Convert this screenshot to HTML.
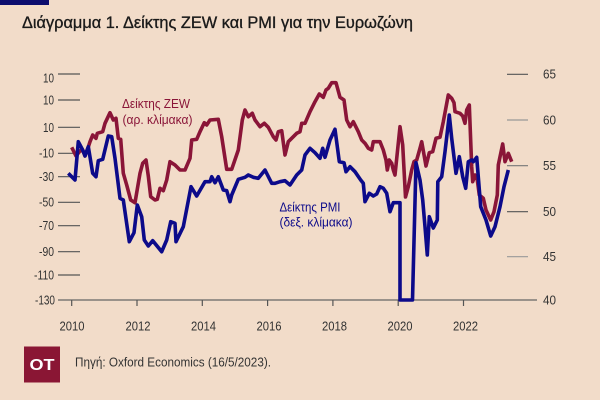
<!DOCTYPE html>
<html>
<head>
<meta charset="utf-8">
<style>
html,body{margin:0;padding:0;background:#f2dcc9;}
svg{display:block;}
text{font-family:"Liberation Sans","DejaVu Sans",sans-serif;}
</style>
</head>
<body>
<svg width="600" height="400" viewBox="0 0 600 400" xmlns="http://www.w3.org/2000/svg">
<rect x="0" y="0" width="600" height="400" fill="#f2dcc9"/>
<rect x="0" y="0" width="49" height="5" fill="#0d0d6e"/>
<text x="22" y="28" font-size="17" fill="#1a1a1a" stroke="#1a1a1a" stroke-width="0.35" textLength="391" lengthAdjust="spacingAndGlyphs">Διάγραμμα 1. Δείκτης ZEW και PMI για την Ευρωζώνη</text>

<!-- left ticks -->
<g stroke="#555" stroke-width="1.2">
<line x1="58" y1="74" x2="80" y2="74"/>
<line x1="58" y1="100" x2="80" y2="100"/>
<line x1="58" y1="127.3" x2="80" y2="127.3"/>
<line x1="58" y1="153.3" x2="80" y2="153.3"/>
<line x1="58" y1="176.7" x2="80" y2="176.7"/>
<line x1="58" y1="202.3" x2="80" y2="202.3"/>
<line x1="58" y1="225.7" x2="80" y2="225.7"/>
<line x1="58" y1="251.7" x2="80" y2="251.7"/>
<line x1="58" y1="275" x2="80" y2="275"/>
</g>
<g font-size="12.5" fill="#333" text-anchor="end">
<text x="54" y="82.5" textLength="11" lengthAdjust="spacingAndGlyphs">10</text>
<text x="54" y="104.5" textLength="11" lengthAdjust="spacingAndGlyphs">10</text>
<text x="54" y="132" textLength="11" lengthAdjust="spacingAndGlyphs">10</text>
<text x="54" y="157.5" textLength="15" lengthAdjust="spacingAndGlyphs">-10</text>
<text x="54" y="181" textLength="15" lengthAdjust="spacingAndGlyphs">-30</text>
<text x="54" y="206.5" textLength="15" lengthAdjust="spacingAndGlyphs">-50</text>
<text x="54" y="230" textLength="15" lengthAdjust="spacingAndGlyphs">-70</text>
<text x="54" y="256" textLength="15" lengthAdjust="spacingAndGlyphs">-90</text>
<text x="54" y="279.5" textLength="20" lengthAdjust="spacingAndGlyphs">-110</text>
<text x="55" y="304.5" textLength="20" lengthAdjust="spacingAndGlyphs">-130</text>
</g>

<!-- right ticks -->
<g stroke-width="1.2">
<line x1="507" y1="74.3" x2="528" y2="74.3" stroke="#555"/>
<line x1="507" y1="120" x2="528" y2="120" stroke="#999"/>
<line x1="507" y1="165.7" x2="528" y2="165.7" stroke="#777"/>
<line x1="507" y1="211.7" x2="528" y2="211.7" stroke="#555"/>
<line x1="507" y1="256.7" x2="528" y2="256.7" stroke="#999"/>
</g>
<g font-size="12.5" fill="#333">
<text x="543" y="78.5" textLength="13" lengthAdjust="spacingAndGlyphs">65</text>
<text x="543" y="124.5" textLength="13" lengthAdjust="spacingAndGlyphs">60</text>
<text x="543" y="170" textLength="13" lengthAdjust="spacingAndGlyphs">55</text>
<text x="543" y="216" textLength="13" lengthAdjust="spacingAndGlyphs">50</text>
<text x="543" y="261" textLength="13" lengthAdjust="spacingAndGlyphs">45</text>
<text x="543" y="304.5" textLength="13" lengthAdjust="spacingAndGlyphs">40</text>
</g>

<!-- bottom axis -->
<line x1="58" y1="300" x2="537" y2="300" stroke="#666" stroke-width="1.2"/>
<g stroke="#555" stroke-width="1.2">
<line x1="71.7" y1="300" x2="71.7" y2="306"/>
<line x1="137" y1="300" x2="137" y2="306"/>
<line x1="202.3" y1="300" x2="202.3" y2="306"/>
<line x1="267.6" y1="300" x2="267.6" y2="306"/>
<line x1="332.9" y1="300" x2="332.9" y2="306"/>
<line x1="398.2" y1="300" x2="398.2" y2="306"/>
<line x1="463.5" y1="300" x2="463.5" y2="306"/>
</g>
<g font-size="12.5" fill="#333" text-anchor="middle">
<text x="72" y="330.5" textLength="25" lengthAdjust="spacingAndGlyphs">2010</text>
<text x="138" y="330.5" textLength="25" lengthAdjust="spacingAndGlyphs">2012</text>
<text x="203.5" y="330.5" textLength="25" lengthAdjust="spacingAndGlyphs">2014</text>
<text x="269" y="330.5" textLength="25" lengthAdjust="spacingAndGlyphs">2016</text>
<text x="334.5" y="330.5" textLength="25" lengthAdjust="spacingAndGlyphs">2018</text>
<text x="400" y="330.5" textLength="25" lengthAdjust="spacingAndGlyphs">2020</text>
<text x="465.5" y="330.5" textLength="25" lengthAdjust="spacingAndGlyphs">2022</text>
</g>

<!-- ZEW series -->
<polyline fill="none" stroke="#8a1538" stroke-width="3.6" stroke-linejoin="round" stroke-linecap="butt" points="
71.7,147.3 76,156 80,151 82.7,150 85,156 88.3,147 90,141.7 92.7,135 96,138.3 97.3,133.3 102.7,131.7 105,123.3 110,112.7 113.3,120 116,118.3 118.3,138.3 120.7,139.3 123.3,173.3 126.7,185 130.7,200 135,202.7 140,173.3 142.7,163.3 146,160 148.3,176 150.7,196.7 155,200 157.3,199.3 160,188.3 163.3,190.7 166.7,180 170,161.7 175,165 180,170 185,170 190,158.3 191.7,140 196.7,139.3 200,131.7 204.3,122.7 206.7,125 210,120 218.3,119.3 221.7,136.7 226.7,169.3 231.7,169.3 238.3,150 242.3,120 245,110 248.3,116.7 252.3,113.3 255,120 260,126.7 264.3,123.3 268.3,127.3 273.3,136.7 276,140 278.3,131.7 281.7,130.7 285,155 288.3,141.7 296.7,133.3 300,131.7 301.7,123.3 305,123.3 310,111.7 315,101.7 319.3,94 323.3,97.3 326,90 328.3,88.3 331.7,82.7 336,82.7 340,97.3 344,100 346.7,120 350,126.7 353.3,121.7 358.3,131.7 361.7,140 365,143.3 368.3,148.3 371.7,150 373.3,141.7 380,141.7 383.3,150 386,160 387.3,170 389.3,160 391.7,163.3 393.3,170 395,175 400,126.7 402.7,145 405.5,197 408.3,186.7 411.7,170 414,161.7 416.7,160 420,148.3 421.7,141.7 426,166 429.3,152.7 432.7,151.7 436,138.3 440,137.3 443.3,121.7 448.3,95 451.7,98.3 454,102.7 455,111.7 460,113.3 462.7,116 465,123.3 466.7,110 469.3,105 471.7,166.7 472.7,181.7 475,175 477.3,180 479.3,195 483.3,198.3 486,210 490.7,220 494,211.7 497.3,195 498.3,165 502.7,144 505,161.7 508.3,153.3 511.7,161.7"/>

<!-- PMI series -->
<polyline fill="none" stroke="#0c0a8a" stroke-width="3.6" stroke-linejoin="round" stroke-linecap="butt" points="
68.3,173.3 75,180 78.3,141.7 82.7,150 85,156 88.3,146.7 92.7,173.3 96,176.7 98.3,160.7 102.7,159.3 108.3,136 111.7,136.7 115,158.3 120,198.3 123.3,200 129.3,241.7 134,232.7 137.3,205 141.7,216.7 144.3,240 148.3,246 152.7,240.7 161.7,251.7 166.7,240 170.7,221.7 175,223.3 176,241.7 183.3,226.7 191,186.7 196.7,196 205,181.7 210,181.7 211.7,176.7 215,182.7 218.3,176.7 223.3,190 226.7,190.7 230,201.7 231.7,195 238.3,179.3 245,177.3 248.3,175 253.3,177.3 258.3,178.3 265,170 271.7,183.3 275,183.3 280,181.7 285,180.7 290,185 296.7,175 301.7,170 305,155 310,148.3 315,152.7 320,158.3 322.7,148.3 325,157.3 330,140 335,129.3 339.3,161.7 344,162.7 346,171.7 350,166.7 355,171.7 360.7,180 363.3,183.3 365,201.7 369.3,193.3 373.3,196 376.7,194 380,186.7 383.3,188.3 386.7,193.3 390,211.7 393.3,202.7 400,202.7 400,300 412.5,300 416,162.7 420,180 422.7,200 425,226.7 427.3,255 429.3,216.7 433.3,228 437.3,220 437.8,181.7 441.7,176.7 445,151.7 449.3,115 451.7,138.3 456,173.3 459.3,156.7 462.7,176.7 465.7,188.3 468.3,161.7 471.7,160 473.3,161.7 476.7,157.3 480.7,206.7 486,220 490.7,236 495,226.7 500,206.7 504,186.7 508.3,170"/>

<!-- series labels -->
<g font-size="13" fill="#8a1538">
<text x="122" y="108" textLength="68" lengthAdjust="spacingAndGlyphs">Δείκτης ZEW</text>
<text x="122.5" y="124" textLength="70" lengthAdjust="spacingAndGlyphs">(αρ. κλίμακα)</text>
</g>
<g font-size="13" fill="#0c0a8a">
<text x="279.5" y="211.5" textLength="61" lengthAdjust="spacingAndGlyphs">Δείκτης PMI</text>
<text x="279.5" y="226.5" textLength="73" lengthAdjust="spacingAndGlyphs">(δεξ. κλίμακα)</text>
</g>

<!-- logo & source -->
<rect x="24" y="346.5" width="36" height="36" fill="#8a1634"/>
<text x="42" y="370" font-size="16" font-weight="bold" fill="#ffffff" text-anchor="middle" textLength="25" lengthAdjust="spacingAndGlyphs">OT</text>
<text x="75" y="366.5" font-size="12.5" fill="#333" textLength="196" lengthAdjust="spacingAndGlyphs">Πηγή: Oxford Economics (16/5/2023).</text>
</svg>
</body>
</html>
